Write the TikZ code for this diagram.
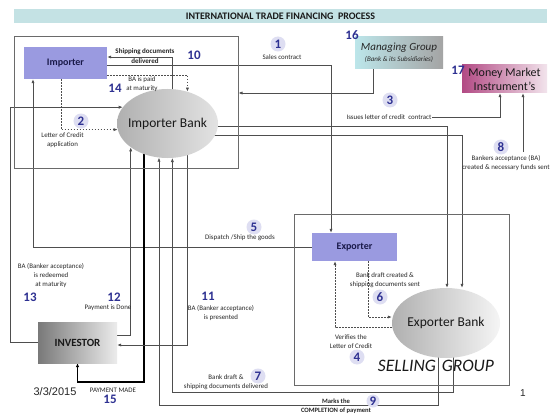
\documentclass[tikz,border=0pt]{standalone}
\usepackage{fontspec}
\setmainfont{Carlito}
\newfontfamily\arialf{Liberation Sans}
\usetikzlibrary{arrows.meta,shapes.geometric}
\pgfdeclarelayer{bg}
\pgfsetlayers{bg,main}
\definecolor{linegray}{HTML}{4E4E4E}
\definecolor{grpgray}{HTML}{6A6A6A}
\definecolor{titleteal}{HTML}{C4E2E4}
\definecolor{actorfill}{HTML}{9A9AE0}
\definecolor{actortext}{HTML}{1A1A4A}
\definecolor{numblue}{HTML}{2E3192}
\definecolor{numcirc}{HTML}{DEDEF2}
\definecolor{mgleft}{HTML}{BCE6EA}
\definecolor{mgright}{HTML}{A4A4A4}
\definecolor{mmleft}{HTML}{B24A84}
\definecolor{mmright}{HTML}{F2E4EC}
\tikzset{
  conn/.style={draw=linegray, line width=0.7pt},
  arr/.style={conn, -{Latex[length=4pt,width=3.2pt]}},
  darr/.style={arr, dash pattern=on 1.6pt off 1.4pt},
  thickarr/.style={draw=black, line width=1.6pt, -{Latex[length=4pt,width=3.6pt]}},
  lbl/.style={font=\fontsize{6.9}{9}\selectfont, text=black!85, inner sep=0.5pt, align=center},
  blbl/.style={lbl, font=\fontsize{7}{9.5}\selectfont\bfseries},
  num/.style={font=\fontsize{13}{13}\selectfont\bfseries, text=numblue, inner sep=0.5pt},
  cnum/.style={num, circle, fill=numcirc, minimum size=15pt, inner sep=0pt},
  actor/.style={rectangle, fill=actorfill, text=actortext, font=\fontsize{10}{11}\selectfont\bfseries},
  bankshape/.style={ellipse, inner xsep=-10pt, inner ysep=0pt, text=black!90, font=\fontsize{13.5}{14}\selectfont},
  grp/.style={draw=grpgray, line width=1pt, rectangle, inner sep=0pt},
}
\begin{document}
\begin{tikzpicture}[x=1pt,y=-1pt]
\useasboundingbox (0,0) rectangle (560,420);

% title
\node[fill=titleteal, minimum width=533pt, minimum height=14pt, inner sep=0pt,
  font=\fontsize{10}{11}\selectfont\bfseries, text=black!90] (title) at (280.5,16)
  {INTERNATIONAL TRADE FINANCING\ \ PROCESS};

% groups
\node[grp, minimum width=224pt, minimum height=131pt] (buy) at (126,102.5) {};
\node[grp, minimum width=215pt, minimum height=171pt] (sell) at (401.5,299.5) {};

% actors
\node[actor, minimum width=83pt, minimum height=32pt] (imp) at (65.5,63) {Importer};
\node[actor, minimum width=85pt, minimum height=28pt] (exp) at (354.5,247) {Exporter};
\node[bankshape, left color=gray!62, right color=gray!22, minimum width=101pt, minimum height=69pt] (ib) at (167.5,123.5) {Importer Bank};
\node[bankshape, left color=gray!62, right color=gray!8, minimum width=108pt, minimum height=70pt] (eb) at (446,323) {Exporter Bank};
\node[rectangle, left color=gray!95!black, right color=gray!15, minimum width=79pt, minimum height=41pt,
  font=\fontsize{11}{12}\selectfont\bfseries, text=black!90] (inv) at (77.5,342.5) {INVESTOR};
\node[rectangle, left color=mgleft, right color=mgright, minimum width=88pt, minimum height=32pt,
  align=center, text=black!85, inner sep=1pt] (mg) at (399,53)
  {{\fontsize{11}{12}\selectfont\itshape Managing Group}\\[-1pt]{\fontsize{7}{8}\selectfont\itshape (Bank \& its Subsidiaries)}};
\node[rectangle, left color=mmleft, right color=mmright, minimum width=85pt, minimum height=28pt,
  align=center, text=black!90, inner sep=0pt, font=\fontsize{12}{14}\selectfont] (mm) at (504.5,79)
  {Money Market\\Instrument's};

% numbers
\node[cnum] (n1) at (278,44) {1};
\node[num] (n10) at (194,55) {10};
\node[num] (n14) at (115,88) {14};
\node[cnum] (n2) at (81,121) {2};
\node[num] (n16) at (352,35) {16};
\node[num] (n17) at (458,70) {17};
\node[cnum] (n3) at (390,100) {3};
\node[cnum] (n8) at (501,147) {8};
\node[cnum] (n5) at (254,227) {5};
\node[cnum] (n6) at (380,297) {6};
\node[cnum] (n4) at (357,357) {4};
\node[cnum] (n7) at (258,376) {7};
\node[cnum, minimum size=13pt] (n9) at (373,401) {9};
\node[num] (n11) at (208,296) {11};
\node[num] (n12) at (114,297) {12};
\node[num] (n13) at (30,297) {13};
\node[num] (n15) at (110,399) {15};

% labels
\node[lbl] (t1) at (282,57) {Sales contract};
\node[blbl] (t10) at (145,56) {Shipping documents\\delivered};
\node[lbl] (t14) at (142,84.5) {BA is paid\\at maturity};
\node[lbl] (t2) at (62.5,140.5) {Letter of Credit\\application};
\node[lbl] (t3) at (389,117) {Issues letter of credit\ \ contract};
\node[lbl] (t8) at (506,163) {Bankers acceptance (BA)\\created \& necessary funds sent};
\node[lbl] (t5) at (240,238) {Dispatch /Ship the goods};
\node[lbl] (t6) at (385,280) {Bank draft created \&\\shipping documents sent};
\node[lbl] (t4) at (351,341.5) {Verifies the\\Letter of Credit};
\node[lbl] (t7) at (226,382.5) {Bank draft \&\\shipping documents delivered};
\node[blbl, font=\fontsize{6.6}{8.5}\selectfont\bfseries] (t9) at (336,406) {Marks the\\COMPLETION of payment};
\node[lbl] (t11) at (221,313) {BA (Banker acceptance)\\is presented};
\node[lbl] (t12) at (108,308) {Payment is Done};
\node[lbl] (t13) at (51,276) {BA (Banker acceptance)\\is redeemed\\at maturity};
\node[lbl] (t15) at (113,390) {PAYMENT MADE};
\node[font=\fontsize{17.5}{18}\selectfont\itshape, text=black!90, inner sep=0pt] (sg) at (436,366) {SELLING\hspace{6pt}GROUP};
\node[font=\arialf\fontsize{11}{12}\selectfont, text=black!85, inner sep=0pt] (date) at (55,392) {3/3/2015};
\node[font=\arialf\fontsize{10}{12}\selectfont, text=black!85, inner sep=0pt] (page) at (523,393) {1};

% connectors
\begin{pgfonlayer}{bg}
\fill[white] (0,0) rectangle (560,420);
\coordinate (w1) at (331,65);
\draw[arr] (imp.east |- w1) -| (w1 |- exp.north);
\coordinate (w10) at (173,57);
\draw[arr] (ib.82) |- (imp.east |- w10);
\coordinate (w14) at (187,75);
\draw[darr] (imp.east |- w14) -| (ib.58);
\coordinate (w2) at (61,130);
\draw[darr] (imp.south -| w2) |- (ib.187);
\coordinate (w13) at (10,0);
\draw[arr] (inv.west) -| (w13 |- ib.160) -- (ib.160);
\coordinate (w5) at (33,0);
\draw[arr] (exp.west) -| (w5 |- imp.south);
\coordinate (w3) at (373,93);
\draw[arr] (mg.south -| w3) |- (buy.east |- w3);
\coordinate (w3b) at (500,0);
\draw[arr] (t3.east) -| (w3b |- mm.south);
\coordinate (w8) at (523,152);
\draw[arr] (w8) -- (w8 |- mm.south);
\coordinate (wa) at (447,126);
\coordinate (wb) at (462,135);
\draw[arr] (ib.center |- wa) -| (wa |- eb.north);
\draw[arr] (ib.center |- wb) -| (wb |- eb.north);
\coordinate (w6) at (368,317);
\draw[darr] (exp.south -| w6) |- (eb.west |- w6);
\coordinate (w4) at (335,327);
\draw[darr] (eb.center |- w4) -| (exp.south -| w4);
\coordinate (w7) at (453,392);
\draw[arr] (eb.center -| w7) -- (w7) -| (ib.-82);
\coordinate (w9) at (438,405);
\draw[arr] (eb.center -| w9) -- (w9) -| (ib.-104);
\coordinate (w15) at (144,382);
\draw[thickarr] (ib.center -| w15) -- (w15) -| (inv.south);
\coordinate (w11) at (187,345);
\draw[arr] (ib.center -| w11) -- (w11) -- (inv.east |- w11);
\coordinate (w12) at (131,335);
\draw[arr] (inv.east |- w12) -| (ib.213);
\end{pgfonlayer}
\end{tikzpicture}
\end{document}
